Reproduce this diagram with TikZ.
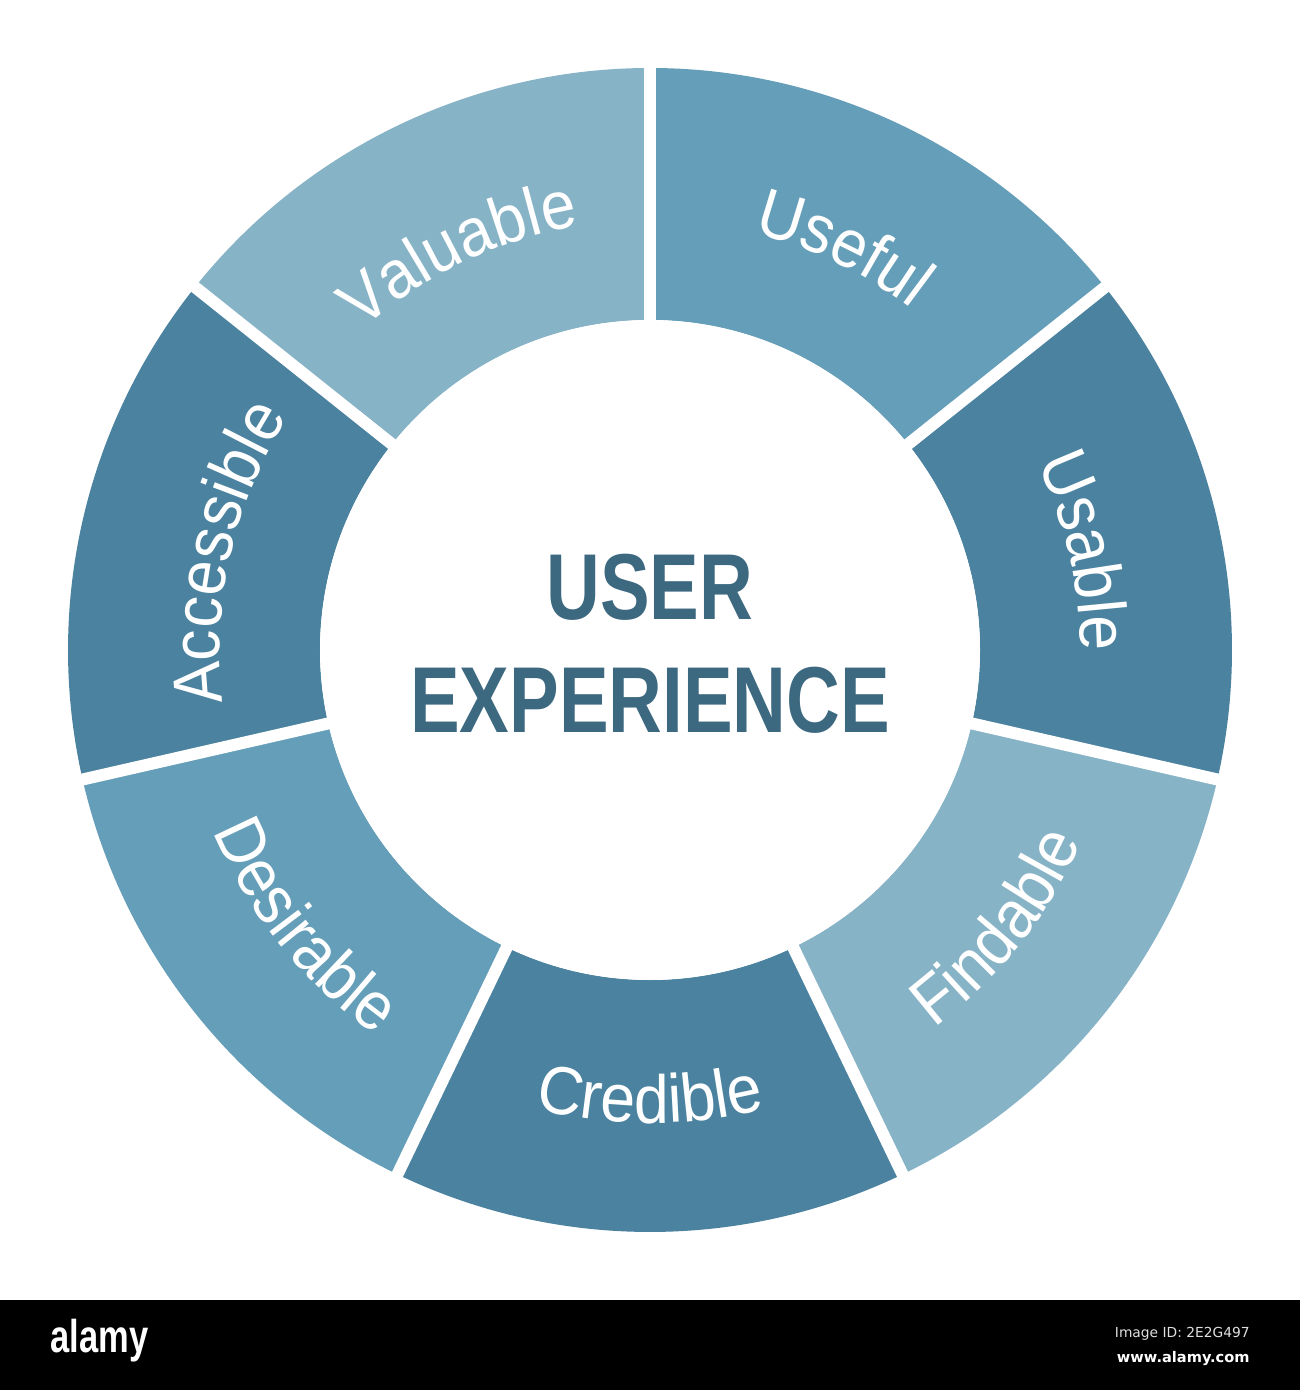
\documentclass[tikz,border=0pt]{standalone}
\usepackage{fontspec}
\usetikzlibrary{decorations.text}
\newfontfamily\lblfam[FakeStretch=0.92]{Liberation Sans}
\newfontfamily\ctrfam[FakeStretch=0.795]{Liberation Sans}
\newfontfamily\logofam[FakeStretch=0.75]{Liberation Sans}
\newfontfamily\barfam{DejaVu Sans}
\definecolor{segL}{HTML}{87B3C7}
\definecolor{segM}{HTML}{659EB9}
\definecolor{segD}{HTML}{4A829F}
\definecolor{ctr}{HTML}{3C6880}
\newcommand\lblf{\lblfam\fontsize{34}{40}\selectfont}
\newcommand\ctrf{\ctrfam\bfseries\fontsize{46.8}{52}\selectfont}
\tikzset{
  toplabel/.style={decorate, decoration={text along path, text align=center, text color=white, text={|\lblf|#1}}},
  botlabel/.style={decorate, decoration={text along path, text align=center, text color=white, text={|\lblf|#1}}},
  centertext/.style={anchor=base, inner sep=0pt, text=ctr, font=\ctrf},
  gapline/.style={white, line width=6pt}
}
\begin{document}
\begin{tikzpicture}[x=0.5pt, y=0.5pt]
\fill[white] (-650,-740) rectangle (650,650);
\useasboundingbox (-650,-740) rectangle (650,650);
% ring segments, clockwise from the top
\foreach \k/\c in {0/segM,1/segD,2/segL,3/segD,4/segM,5/segD,6/segL}{
  \pgfmathsetmacro\aa{90-(\k+1)*360/7}
  \pgfmathsetmacro\ab{90-\k*360/7}
  \fill[\c] (\aa:582) arc[start angle=\aa, end angle=\ab, radius=582]
     -- (\ab:330) arc[start angle=\ab, end angle=\aa, radius=330] -- cycle;
}
\foreach \k in {0,...,6}{
  \draw[gapline] (0,0) -- ({90-\k*360/7}:600);
}
\fill[white] (0,0) circle[radius=330];
% labels (upper half read clockwise, lower half counter-clockwise)
\path[toplabel={Useful}] (94.29:430) arc[start angle=94.29, end angle=34.29, radius=430];
\path[toplabel={Usable}] (42.86:430) arc[start angle=42.86, end angle=-17.14, radius=430];
\path[toplabel={Valuable}] (145.71:430) arc[start angle=145.71, end angle=85.71, radius=430];
\path[toplabel={Accessible}] (202.14:430) arc[start angle=202.14, end angle=132.14, radius=430];
\path[botlabel={Findable}] (-73.57:473) arc[start angle=-73.57, end angle=-3.57, radius=473];
\path[botlabel={Credible}] (-125:473) arc[start angle=-125, end angle=-55, radius=473];
\path[botlabel={Desirable}] (-176.43:473) arc[start angle=-176.43, end angle=-106.43, radius=473];
% centre
\node[centertext] (user) at (0,30) {USER};
\node[centertext] (exp) at (0,-83) {EXPERIENCE};
% bottom bar
\fill[black] (-650,-650) rectangle (650,-740);
\node[anchor=base west, inner sep=0pt, text=white, font=\logofam\bfseries\fontsize{23}{26}\selectfont] (logo) at (-600,-702) {alamy};
\node[anchor=base east, inner sep=0pt, text=white!88!black, font=\barfam\fontsize{6.9}{8}\selectfont] (imgid) at (600,-687) {Image ID: 2E2G497};
\node[anchor=base east, inner sep=0pt, text=white, font=\barfam\bfseries\fontsize{7.3}{9}\selectfont] (web) at (600,-712) {www.alamy.com};
\end{tikzpicture}
\end{document}
